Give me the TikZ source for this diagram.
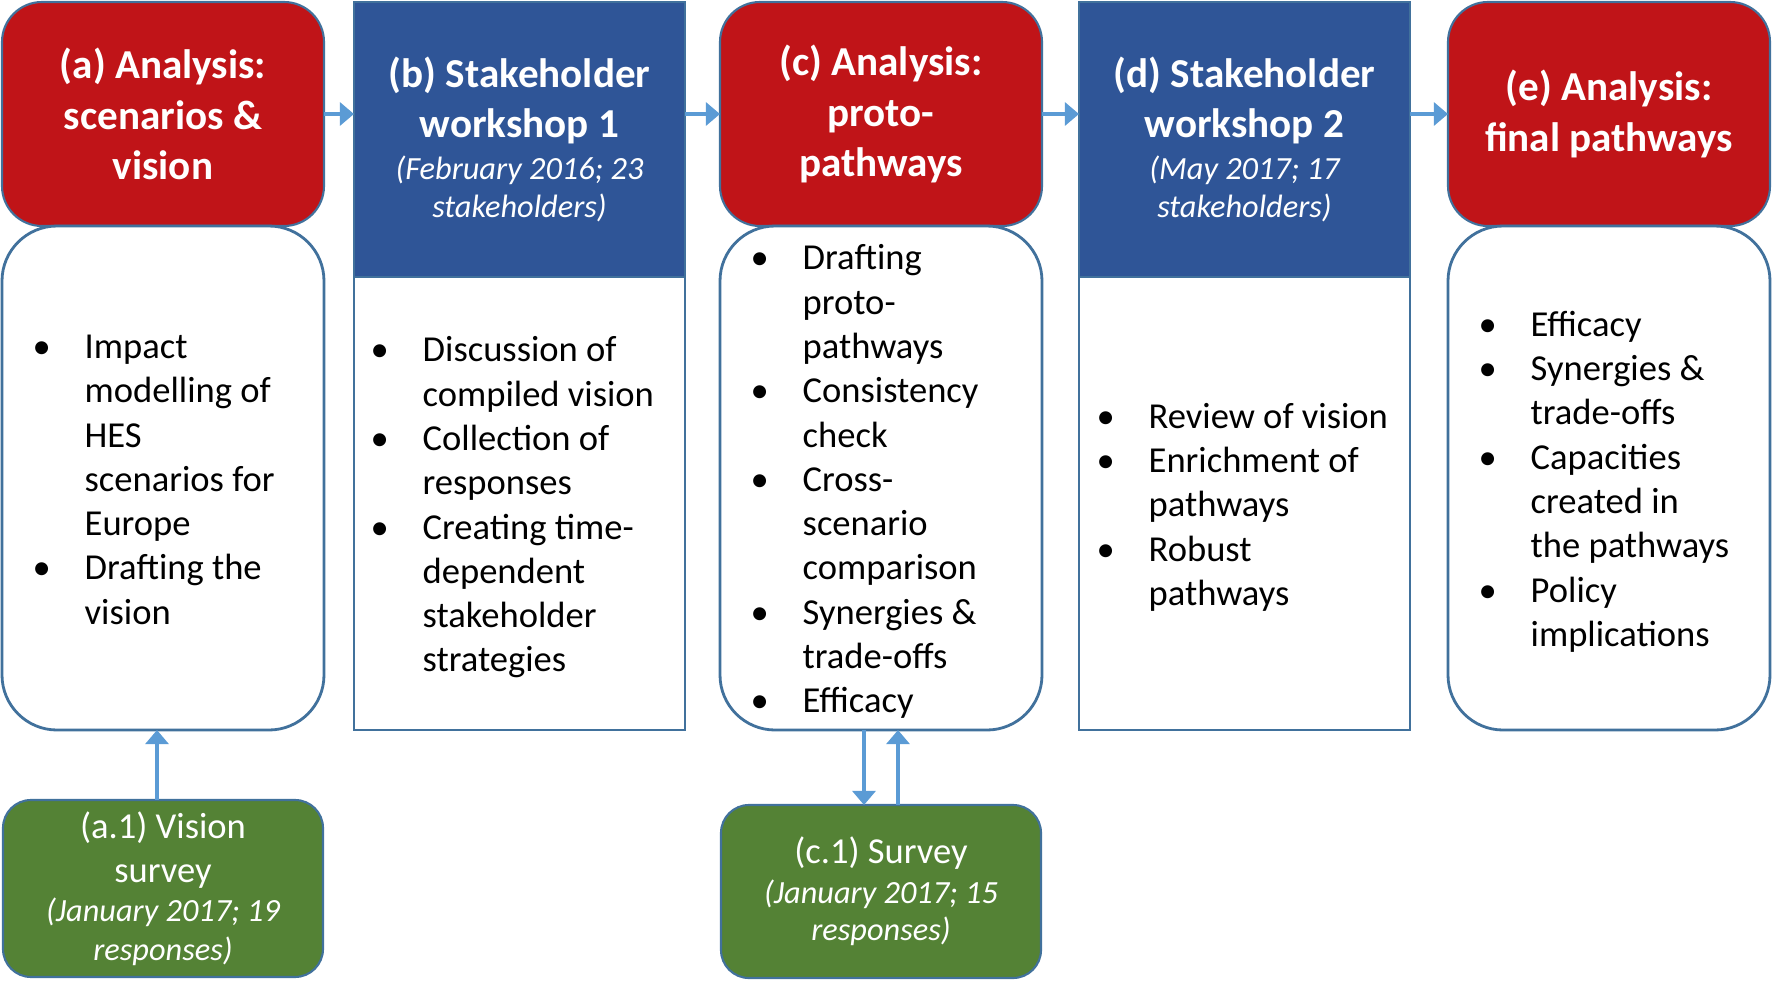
\documentclass[tikz,border=0pt]{standalone}
\usepackage{fontspec}
\setmainfont{Carlito}
\usetikzlibrary{positioning,arrows.meta}
\definecolor{rojo}{RGB}{192,20,24}
\definecolor{azul}{RGB}{47,85,151}
\definecolor{verde}{RGB}{84,130,53}
\definecolor{borde}{RGB}{65,113,156}
\definecolor{flecha}{RGB}{91,155,213}
\newcommand{\fecha}[1]{{\fontsize{9.2}{11}\selectfont\mdseries\itshape #1}}
\begin{document}
\begin{tikzpicture}
[cabr/.style={rectangle,rounded corners=0.4cm,fill=rojo,draw=borde,line width=0.6pt,text=white,align=center,
  font=\fontsize{11.7}{14.4}\selectfont\bfseries,minimum width=3.22cm,minimum height=2.24cm,outer sep=0pt},
 caba/.style={rectangle,fill=azul,draw=borde,line width=0.6pt,text=white,align=center,
  font=\fontsize{11.7}{14.4}\selectfont\bfseries,minimum width=3.31cm,minimum height=2.75cm,outer sep=0pt},
 cuerpor/.style={rectangle,rounded corners=0.55cm,draw=borde,line width=0.8pt,fill=white,
  minimum width=3.22cm,minimum height=5.04cm,outer sep=0pt},
 cuerpoa/.style={rectangle,draw=borde,line width=0.8pt,fill=white,
  minimum width=3.31cm,minimum height=4.53cm,outer sep=0pt},
 lista/.style={inner sep=0pt,yshift=-0.045cm,font=\fontsize{10.4}{12.6}\selectfont},
 encuesta/.style={rectangle,rounded corners=0.28cm,fill=verde,draw=borde,line width=0.6pt,text=white,align=center,
  font=\fontsize{10.4}{12.6}\selectfont,minimum width=3.2cm,outer sep=0pt},
 flechita/.style={flecha,line width=1.3pt,-{Triangle[length=4pt,width=6.5pt]}}]
\useasboundingbox (0,0) rectangle (17.72,9.80);
% cabeceras
\node (cab1) [cabr] at (1.63,8.66) {(a) Analysis:\\scenarios \&\\vision};
\node (cab2) [caba] at (5.195,8.405) {(b) Stakeholder\\workshop 1\\[-2.6pt]\fecha{(February 2016; 23}\\[-3.5pt]\fecha{stakeholders)}};
\node (cab3) [cabr] at (8.81,8.66) {(c) Analysis:\\proto-\\pathways};
\node (cab4) [caba] at (12.445,8.405) {(d) Stakeholder\\workshop 2\\[-2.6pt]\fecha{(May 2017; 17}\\[-3.5pt]\fecha{stakeholders)}};
\node (cab5) [cabr] at (16.09,8.66) {(e) Analysis:\\final pathways};
% cuerpos
\node (cuerpo1) [cuerpor, below=0pt of cab1] {};
\node (cuerpo2) [cuerpoa, below=0pt of cab2] {};
\node (cuerpo3) [cuerpor, below=0pt of cab3] {};
\node (cuerpo4) [cuerpoa, below=0pt of cab4] {};
\node (cuerpo5) [cuerpor, below=0pt of cab5] {};
\node (lista1) [lista, right=0.30cm of cuerpo1.west] {\begin{tabular}{@{}p{0.52cm}@{}l@{}}
\textbullet & Impact\\ & modelling of\\ & HES\\ & scenarios for\\ & Europe\\
\textbullet & Drafting the\\ & vision\end{tabular}};
\node (lista2) [lista, right=0.16cm of cuerpo2.west] {\begin{tabular}{@{}p{0.52cm}@{}l@{}}
\textbullet & Discussion of\\ & compiled vision\\
\textbullet & Collection of\\ & responses\\
\textbullet & Creating time-\\ & dependent\\ & stakeholder\\ & strategies\end{tabular}};
\node (lista3) [lista, right=0.30cm of cuerpo3.west] {\begin{tabular}{@{}p{0.52cm}@{}l@{}}
\textbullet & Drafting\\ & proto-\\ & pathways\\
\textbullet & Consistency\\ & check\\
\textbullet & Cross-\\ & scenario\\ & comparison\\
\textbullet & Synergies \&\\ & trade-offs\\
\textbullet & Efficacy\end{tabular}};
\node (lista4) [lista, right=0.17cm of cuerpo4.west] {\begin{tabular}{@{}p{0.52cm}@{}l@{}}
\textbullet & Review of vision\\
\textbullet & Enrichment of\\ & pathways\\
\textbullet & Robust\\ & pathways\end{tabular}};
\node (lista5) [lista, right=0.30cm of cuerpo5.west] {\begin{tabular}{@{}p{0.52cm}@{}l@{}}
\textbullet & Efficacy\\
\textbullet & Synergies \&\\ & trade-offs\\
\textbullet & Capacities\\ & created in\\ & the pathways\\
\textbullet & Policy\\ & implications\end{tabular}};
% encuestas
\node (encuesta1) [encuesta, minimum height=1.75cm, below=0.70cm of cuerpo1] {(a.1) Vision\\survey\\[-1.6pt]\fecha{(January 2017; 19}\\[-1.6pt]\fecha{responses)}};
\node (encuesta2) [encuesta, minimum height=1.73cm, below=0.75cm of cuerpo3] {(c.1) Survey\\[-1.3pt]\fecha{(January 2017; 15}\\[-1.9pt]\fecha{responses)}};
% flechas
\draw[flechita] (cab1.east) -- (cab1.east -| cab2.west);
\draw[flechita] (cab3.west -| cab2.east) -- (cab3.west);
\draw[flechita] (cab3.east) -- (cab3.east -| cab4.west);
\draw[flechita] (cab5.west -| cab4.east) -- (cab5.west);
\draw[flechita] ([xshift=-0.06cm]encuesta1.north) -- ([xshift=-0.06cm]cuerpo1.south);
\draw[flechita] ([xshift=-0.17cm]cuerpo3.south) -- ([xshift=-0.17cm]encuesta2.north);
\draw[flechita] ([xshift=0.17cm]encuesta2.north) -- ([xshift=0.17cm]cuerpo3.south);
\end{tikzpicture}
\end{document}
